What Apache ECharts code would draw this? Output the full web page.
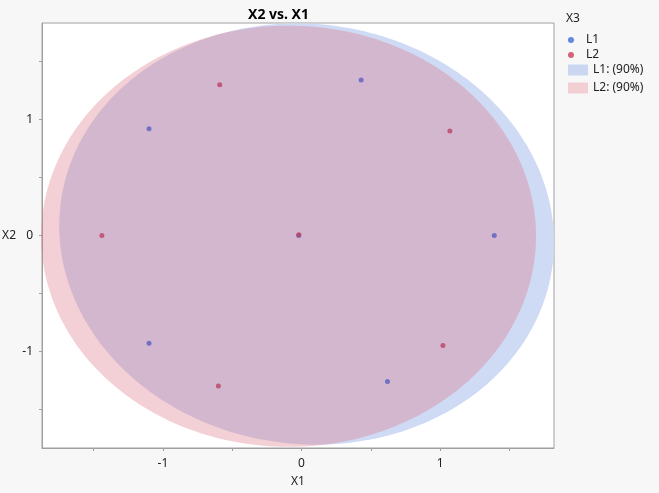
<!DOCTYPE html>
<html>
<head>
<meta charset="utf-8">
<script src="https://cdn.jsdelivr.net/npm/echarts@6/dist/echarts.min.js"></script>
<style>
html,body{margin:0;padding:0;background:#f7f7f7;}
#c{width:659px;height:493px;}
</style>
</head>
<body>
<div id="c"></div>
<script>
// ---- data ----
const l1X = [-1.10, 0.43, 1.39, 0.62, -1.10, -0.02];
const l1Y = [0.92, 1.34, 0.00, -1.26, -0.93, 0.00];
const l2X = [-0.59, 1.07, 1.02, -0.60, -1.44, -0.02];
const l2Y = [1.30, 0.90, -0.95, -1.30, 0.00, 0.005];
const xTicks = [-1.5, -1, -0.5, 0, 0.5, 1, 1.5];
const xLabels = [-1, 0, 1];
const yTicks = [-1.5, -1, -0.5, 0, 0.5, 1, 1.5];
const yLabels = [-1, 0, 1];
const ellipseScale = 1.8; // size of the 90% density ellipse, in standard deviations

const FONT = '"Noto Sans", "Open Sans", sans-serif';

function ellipsePoints(xs, ys, k) {
  const n = xs.length;
  const mx = xs.reduce((a, b) => a + b, 0) / n;
  const my = ys.reduce((a, b) => a + b, 0) / n;
  let sxx = 0, syy = 0, sxy = 0;
  for (let i = 0; i < n; i++) {
    sxx += (xs[i] - mx) * (xs[i] - mx);
    syy += (ys[i] - my) * (ys[i] - my);
    sxy += (xs[i] - mx) * (ys[i] - my);
  }
  sxx /= (n - 1); syy /= (n - 1); sxy /= (n - 1);
  const l11 = Math.sqrt(sxx), l21 = sxy / l11, l22 = Math.sqrt(syy - l21 * l21);
  const pts = [];
  for (let i = 0; i < 240; i++) {
    const t = i / 240 * Math.PI * 2;
    const c = Math.cos(t), s = Math.sin(t);
    pts.push([mx + k * l11 * c, my + k * (l21 * c + l22 * s)]);
  }
  return {center: [mx, my], pts: pts};
}

const e1 = ellipsePoints(l1X, l1Y, ellipseScale);
const e2 = ellipsePoints(l2X, l2Y, ellipseScale);

function ellipseSeries(name, e, color, z) {
  return {
    name: name,
    type: 'custom',
    coordinateSystem: 'cartesian2d',
    z: z,
    silent: true,
    itemStyle: {color: color},
    data: [e.center],
    renderItem: function (params, api) {
      return {
        type: 'polygon',
        shape: {points: e.pts.map(p => api.coord(p))},
        style: {fill: color}
      };
    }
  };
}

const chart = echarts.init(document.getElementById('c'), null, {renderer: 'canvas'});
chart.setOption({
  backgroundColor: '#f7f7f7',
  animation: false,
  textStyle: {fontFamily: FONT},
  title: [
    {text: 'X2 vs. X1', left: 243, top: 3, textStyle: {fontFamily: FONT, fontSize: 14, fontWeight: 'bold', color: '#000'}},
    {text: 'X3', left: 561, top: 8, textStyle: {fontFamily: FONT, fontSize: 12, fontWeight: 'normal', color: '#222'}}
  ],
  legend: [
    {
      orient: 'vertical', left: 563, top: 28, itemWidth: 20, itemHeight: 6, itemGap: 1,
      icon: 'circle',
      textStyle: {fontFamily: FONT, fontSize: 12, color: '#222', lineHeight: 14},
      data: [
        {name: 'L1', itemStyle: {color: '#4169d8'}},
        {name: 'L2', itemStyle: {color: '#cc3d55'}}
      ]
    },
    {
      orient: 'vertical', left: 563, top: 58, itemWidth: 20, itemHeight: 11, itemGap: 4,
      icon: 'rect',
      textStyle: {fontFamily: FONT, fontSize: 12, color: '#222', lineHeight: 14},
      data: [
        {name: 'L1: (90%)', itemStyle: {color: '#cbd7f1'}},
        {name: 'L2: (90%)', itemStyle: {color: '#f1cfd3'}}
      ]
    }
  ],
  grid: {left: 42, right: 105, top: 23, bottom: 45, containLabel: false, outerBoundsMode: 'none',
         show: true, backgroundColor: '#ffffff', borderColor: '#a0a0a0', borderWidth: 1},
  xAxis: {
    type: 'value', min: -1.872, max: 1.821,
    name: 'X1', nameLocation: 'middle', nameGap: 28,
    nameTextStyle: {fontFamily: FONT, fontSize: 12, color: '#222'},
    splitLine: {show: false},
    axisLine: {show: true, onZero: false, lineStyle: {color: '#a0a0a0'}},
    axisTick: {show: true, length: 3, lineStyle: {color: '#a0a0a0'}, customValues: xTicks},
    axisLabel: {fontFamily: FONT, fontSize: 12, color: '#222', margin: 10, customValues: xLabels}
  },
  yAxis: {
    type: 'value', min: -1.834, max: 1.832,
    name: 'X2', nameLocation: 'middle', nameGap: 26, nameRotate: 0,
    nameTextStyle: {fontFamily: FONT, fontSize: 12, color: '#222'},
    splitLine: {show: false},
    axisLine: {show: true, onZero: false, lineStyle: {color: '#a0a0a0'}},
    axisTick: {show: true, length: 3, lineStyle: {color: '#a0a0a0'}, customValues: yTicks},
    axisLabel: {fontFamily: FONT, fontSize: 12, color: '#222', margin: 9, customValues: yLabels}
  },
  series: [
    ellipseSeries('L1: (90%)', e1, 'rgb(207,218,244)', 1),
    ellipseSeries('L2: (90%)', e2, 'rgba(220,117,131,0.34)', 2),
    {
      name: 'L1', type: 'scatter', z: 5, symbol: 'circle', symbolSize: 5,
      itemStyle: {color: '#5b5fc2'},
      data: l1X.map((x, i) => [x, l1Y[i]])
    },
    {
      name: 'L2', type: 'scatter', z: 6, symbol: 'circle', symbolSize: 5,
      itemStyle: {color: '#bb4265'},
      data: l2X.map((x, i) => [x, l2Y[i]])
    }
  ]
});
</script>
</body>
</html>
